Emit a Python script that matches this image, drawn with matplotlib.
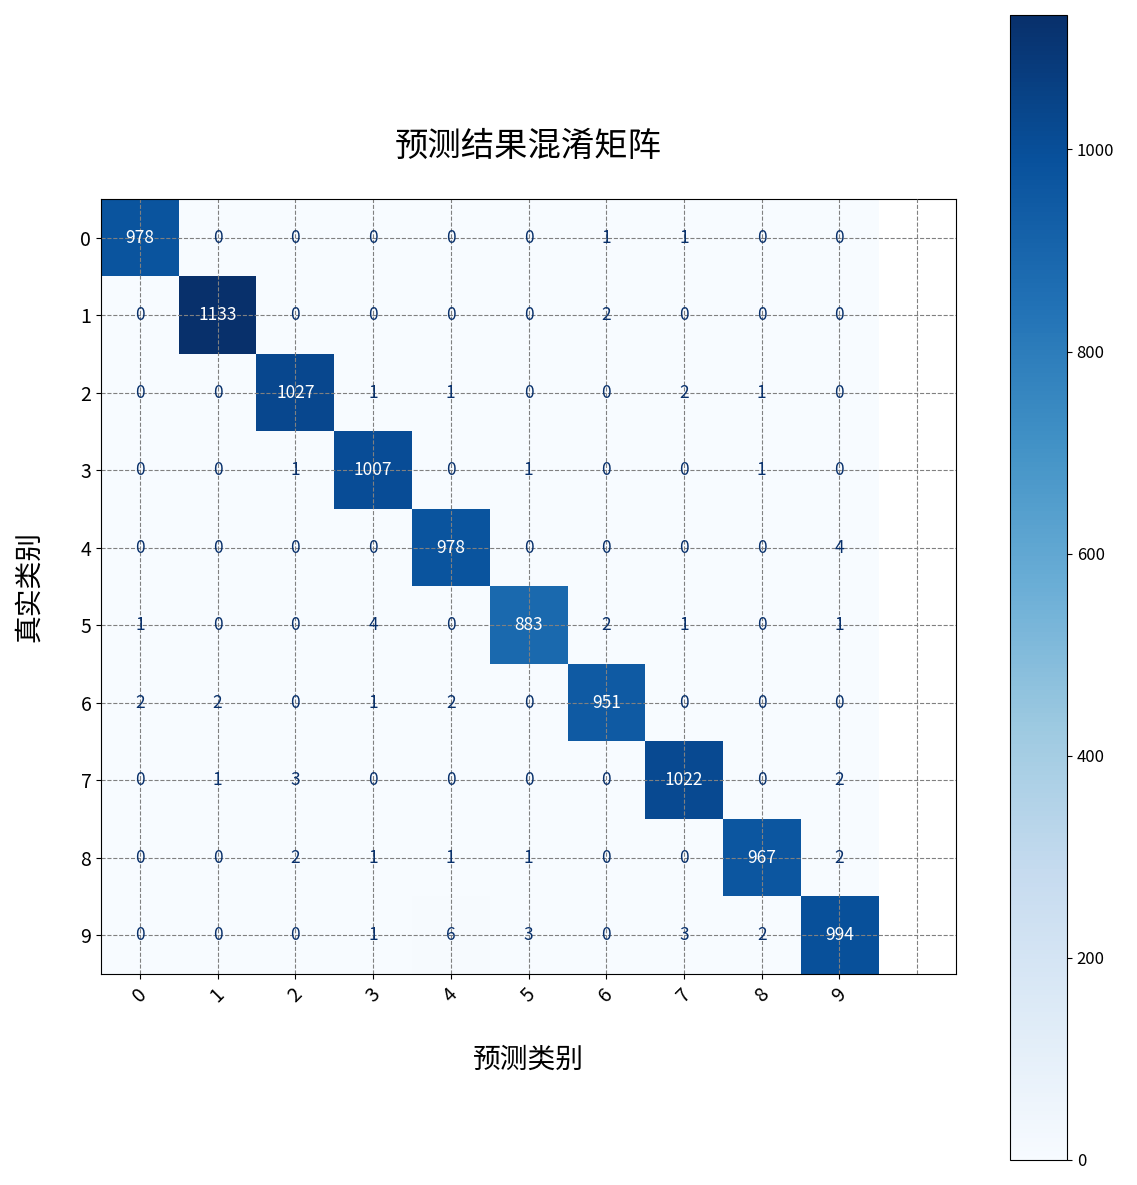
import matplotlib
matplotlib.use("Agg")
import matplotlib.pyplot as plt
import numpy as np

plt.rcParams['font.family'] = ['Noto Sans CJK SC', 'DejaVu Sans']
plt.rcParams['axes.unicode_minus'] = False

classes = ['0', '1', '2', '3', '4', '5', '6', '7', '8', '9']
cm = np.array([
    [978, 0, 0, 0, 0, 0, 1, 1, 0, 0],
    [0, 1133, 0, 0, 0, 0, 2, 0, 0, 0],
    [0, 0, 1027, 1, 1, 0, 0, 2, 1, 0],
    [0, 0, 1, 1007, 0, 1, 0, 0, 1, 0],
    [0, 0, 0, 0, 978, 0, 0, 0, 0, 4],
    [1, 0, 0, 4, 0, 883, 2, 1, 0, 1],
    [2, 2, 0, 1, 2, 0, 951, 0, 0, 0],
    [0, 1, 3, 0, 0, 0, 0, 1022, 0, 2],
    [0, 0, 2, 1, 1, 1, 0, 0, 967, 2],
    [0, 0, 0, 1, 6, 3, 0, 3, 2, 994],
])

W, H = 1137, 1185
fig = plt.figure(figsize=(W / 100, H / 100), dpi=100)
ax = fig.add_axes([101 / W, (H - 974) / H, 855 / W, 775 / H])
cax = fig.add_axes([1010 / W, (H - 1160) / H, 57 / W, 1145 / H])

im = ax.imshow(cm, cmap='Blues', vmin=0, vmax=cm.max(), interpolation='nearest')
ax.set_xlim(-0.5, 10.5)
ax.set_ylim(9.5, -0.5)
ax.set_aspect('auto')

cb = fig.colorbar(im, cax=cax)
cb.ax.tick_params(labelsize=12)

ax.set_xticks(range(len(classes)))
ax.set_xticklabels(classes, rotation=45, fontsize=14)
ax.set_yticks(range(len(classes)))
ax.set_yticklabels(classes, fontsize=14)

thresh = cm.max() / 2
for i in range(cm.shape[0]):
    for j in range(cm.shape[1]):
        ax.text(j, i, str(cm[i, j]), ha='center', va='center', fontsize=12.5,
                color='white' if cm[i, j] > thresh else '#08306b', zorder=3)

ax.grid(True, linestyle='--', color='gray', linewidth=0.8, zorder=4)
ax.axvline(10, linestyle='--', color='gray', linewidth=0.8, zorder=4)

ax.set_title('预测结果混淆矩阵', fontsize=24, pad=31)
ax.set_xlabel('预测类别', fontsize=20, labelpad=28)
ax.set_ylabel('真实类别', fontsize=20, labelpad=26)

fig.savefig('out.png', dpi=100)
